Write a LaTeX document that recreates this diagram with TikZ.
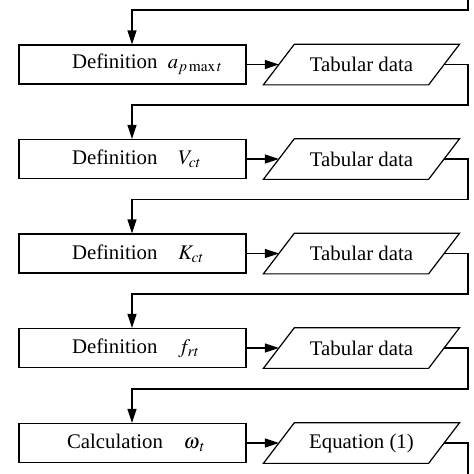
\documentclass[tikz,border=0pt]{standalone}
\usepackage{mathptmx}
\usepackage{fontspec}
\setmainfont{Liberation Serif}
\usetikzlibrary{arrows.meta}
\tikzset{every path/.style={line width=1.2pt},
  every node/.style={font=\fontsize{20.8}{25}\selectfont},
  stepbox/.style={draw, minimum width=227pt, minimum height=39pt, inner sep=0pt},
  databox/.style={minimum width=164pt, minimum height=39.5pt, inner sep=0pt},
  flow/.style={-{Triangle[length=14pt,width=9pt]}}}
\newcommand\steplbl[1]{\makebox[121pt][l]{#1}}

\begin{document}
\begin{tikzpicture}[x=1pt,y=-1pt]
  \useasboundingbox (0,0) rectangle (474,474);
  % steps
  \node[stepbox] (s1) at (132.5, 64.5) {\steplbl{Definition\enspace$a_{p\max t}$}};
  \node[stepbox] (s2) at (132.5,159.0) {\steplbl{Definition\quad$V_{ct}$}};
  \node[stepbox] (s3) at (132.5,253.5) {\steplbl{Definition\quad$K_{ct}$}};
  \node[stepbox] (s4) at (132.5,348.0) {\steplbl{Definition\quad$f_{rt}$}};
  \node[stepbox] (s5) at (132.5,443.0) {\makebox[131pt][l]{Calculation\quad$\omega_{\,t}$}};
  % data
  \node[databox] (d1) at (361.5, 64.5) {Tabular data};
  \node[databox] (d2) at (361.5,159.0) {Tabular data};
  \node[databox] (d3) at (361.5,253.5) {Tabular data};
  \node[databox] (d4) at (361.5,348.0) {Tabular data};
  \node[databox] (d5) at (361.5,443.0) {Equation (1)};
  \foreach \d in {d1,d2,d3,d4,d5}
    \draw ([xshift=-15.5pt]\d.south west) -- ([xshift=15.5pt]\d.north west)
       -- ([xshift=15.5pt]\d.north east) -- ([xshift=-15.5pt]\d.south east) -- cycle;
  \coordinate (in) at (468,0);
  \coordinate (out) at (468,474);
  % connectors
  \draw[flow] (in) |- (132,10) -- (s1.north -| 132,0);
  \draw[flow] (s1) -- (d1.west);
  \draw[flow] (d1.east) -| (468,105) -| (s2.north -| 132,0);
  \draw[flow] (s2) -- (d2.west);
  \draw[flow] (d2.east) -| (468,199.5) -| (s3.north -| 132,0);
  \draw[flow] (s3) -- (d3.west);
  \draw[flow] (d3.east) -| (468,294) -| (s4.north -| 132,0);
  \draw[flow] (s4) -- (d4.west);
  \draw[flow] (d4.east) -| (468,389) -| (s5.north -| 132,0);
  \draw[flow] (s5) -- (d5.west);
  \draw (d5.east) -| (out);
\end{tikzpicture}
\end{document}
